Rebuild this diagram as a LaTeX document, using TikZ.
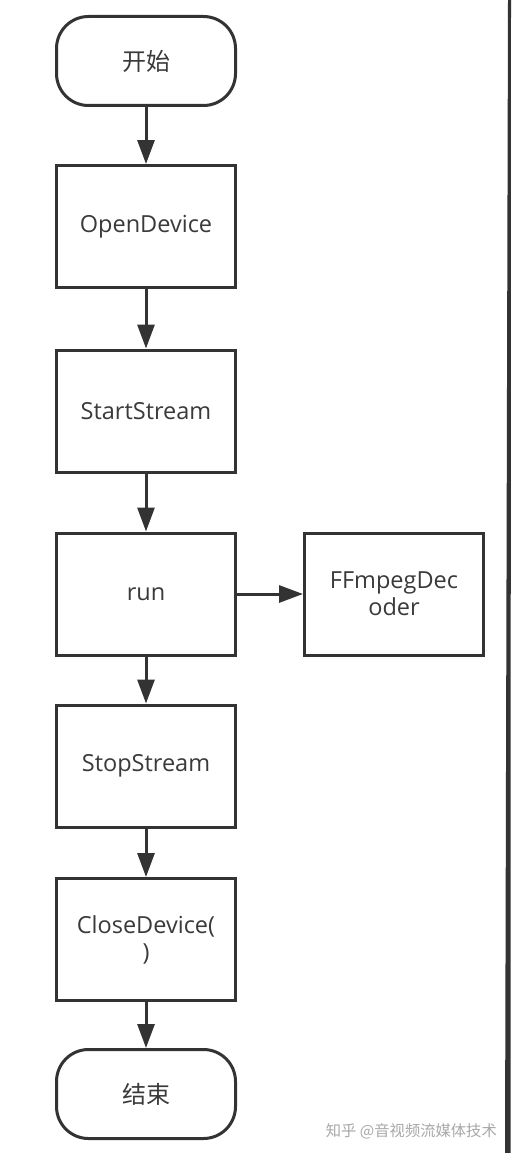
\documentclass[tikz,border=0pt]{standalone}
\usepackage{fontspec}
\setmainfont{Open Sans}
\newfontfamily\cjk{Noto Sans CJK SC}
\usetikzlibrary{arrows.meta}
\definecolor{ink}{HTML}{333333}
\definecolor{txt}{HTML}{3A3A3A}
\definecolor{wm}{HTML}{A8A8A8}
\tikzset{
  box/.style={draw=ink, line width=3pt, fill=white, minimum width=179pt, minimum height=122pt, inner sep=2pt, align=center, text=txt, font=\fontsize{23.5}{27}\selectfont},
  term/.style={box, minimum height=89pt, rounded corners=32pt, font=\fontsize{24}{27}\selectfont},
  flow/.style={draw=ink, line width=3pt, -{Triangle[length=24pt,width=17pt]}}
}
\begin{document}
\begin{tikzpicture}[x=1pt,y=-1pt]
\useasboundingbox (0,0) rectangle (511,1153);
\fill[white] (0,0) rectangle (511,1153);
\fill[ink] (508,0) -- (511,0) -- (510.5,1153) -- (505,1153) -- cycle;
\node[term] (start) at (146,61) {\cjk 开始};
\node[box] (open) at (146,226.5) {OpenDevice};
\node[box] (sst) at (146,411) {StartStream};
\node[box] (run) at (146,594) {run};
\node[box] (ff) at (394,594) {FFmpegDec\\oder};
\node[box] (stop) at (146,766) {StopStream};
\node[box] (close) at (146,939.5) {CloseDevice(\\)};
\node[term] (end) at (146,1094) {\cjk 结束};
\node[text=wm, font=\cjk\fontsize{15.3}{18}\selectfont, anchor=east, inner sep=0pt] (wmk) at (497,1131) {知乎 @音视频流媒体技术};
\draw[flow] (start) -- (open);
\draw[flow] (open) -- (sst);
\draw[flow] (sst) -- (run);
\draw[flow] (run) -- (ff);
\draw[flow] (run) -- (stop);
\draw[flow] (stop) -- (close);
\draw[flow] (close) -- (end);
\end{tikzpicture}
\end{document}
